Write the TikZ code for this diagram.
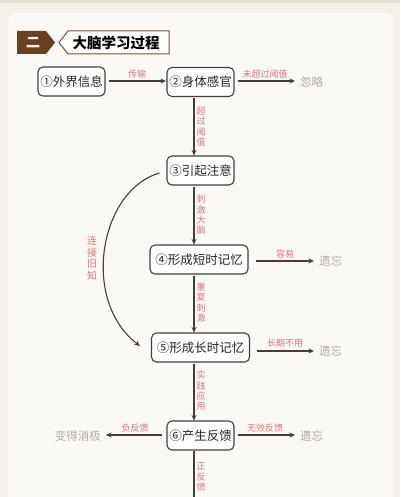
\documentclass[tikz,border=0pt]{standalone}
\usepackage{fontspec}
\setmainfont{Noto Sans CJK SC}
\usetikzlibrary{arrows.meta}
\definecolor{outerbg}{HTML}{F5F0EA}
\definecolor{topstrip}{HTML}{E9DDD0}
\definecolor{panelbg}{HTML}{FBF9F6}
\definecolor{nodeborder}{HTML}{4A3B35}
\definecolor{lblred}{HTML}{E0737B}
\definecolor{grayout}{HTML}{B3A89F}
\definecolor{hdrbrown}{HTML}{6B3F1F}
\definecolor{hdrborder}{HTML}{7A4E2E}
\tikzset{
  stepbox/.style={draw=nodeborder, line width=1.1pt, rounded corners=5pt, fill=white,
    minimum height=29pt, inner sep=0pt, font=\fontsize{12.5}{14}\selectfont, text=black!85},
  conn/.style={draw=nodeborder, line width=1.1pt, -{Stealth[length=5.5pt,width=5pt]}},
  lbl/.style={text=lblred, font=\fontsize{9}{10}\selectfont, inner sep=0pt},
  vlbl/.style={text=lblred, font=\fontsize{9}{10.3}\selectfont, inner sep=0pt, align=center},
  outtxt/.style={text=grayout, font=\fontsize{11.5}{13}\selectfont, inner sep=0pt},
}
\begin{document}
\begin{tikzpicture}[x=1pt,y=-1pt]
\useasboundingbox (0,0) rectangle (400,497);
\fill[outerbg] (0,0) rectangle (400,497);
\fill[topstrip] (0,0) rectangle (400,3);
\fill[panelbg, rounded corners=7pt] (8,13) rectangle (393,520);
% header
\fill[hdrbrown] (17,31) -- (46,31) -- (55,42.5) -- (46,54) -- (17,54) -- cycle;
\node[text=white, font=\bfseries\fontsize{14}{14}\selectfont, inner sep=0pt] (hnum) at (33,42.5) {二};
\draw[hdrborder, line width=1pt, fill=white] (68,31) -- (169,31) -- (169,54) -- (68,54) -- (59,42.5) -- cycle;
\node[font=\bfseries\fontsize{14.5}{15}\selectfont, inner sep=0pt, text=black] (htitle) at (116,42.5) {大脑学习过程};
% nodes
\node[stepbox, minimum width=67pt] (n1) at (71.5,81.5) {①外界信息};
\node[stepbox, minimum width=67pt] (n2) at (200.5,82) {②身体感官};
\node[stepbox, minimum width=67pt] (n3) at (200.5,170.5) {③引起注意};
\node[stepbox, minimum width=98pt] (n4) at (199,259.5) {④形成短时记忆};
\node[stepbox, minimum width=98pt] (n5) at (200.5,347.5) {⑤形成长时记忆};
\node[stepbox, minimum width=67pt] (n6) at (200.5,435.5) {⑥产生反馈};
% outcome texts
\node[outtxt, anchor=west] (o2) at (300,82) {忽略};
\node[outtxt, anchor=west] (o4) at (319,261.5) {遗忘};
\node[outtxt, anchor=west] (o5) at (319,351) {遗忘};
\node[outtxt, anchor=west] (o6r) at (300,436) {遗忘};
\node[outtxt, anchor=east] (o6l) at (101,436) {变得消极};
\coordinate (vx) at (194,0);
\coordinate (bottomend) at (194,500);
% horizontal connectors
\draw[conn, shorten <=3.5pt, shorten >=0.5pt] (n1.east |- 0,81) -- (n2.west |- 0,81);
\node[lbl] (l12) at (137,74) {传输};
\draw[conn, shorten <=3pt, shorten >=5pt] (n2.east |- 0,81) -- (o2.west |- 0,81);
\node[lbl] (l2o) at (265,74) {未超过阈值};
\draw[conn, shorten <=7pt, shorten >=5pt] (n4.east |- 0,261) -- (o4.west |- 0,261);
\node[lbl] (l4o) at (285,254) {容易};
\draw[conn, shorten <=7pt, shorten >=5pt] (n5.east |- 0,351) -- (o5.west |- 0,351);
\node[lbl] (l5o) at (285,343.5) {长期不用};
\draw[conn, shorten <=3pt, shorten >=5pt] (n6.east |- 0,435) -- (o6r.west |- 0,435);
\node[lbl] (l6r) at (265,428) {无效反馈};
\draw[conn, shorten <=4pt, shorten >=5pt] (n6.west |- 0,435) -- (o6l.east |- 0,435);
\node[lbl] (l6l) at (135,428) {负反馈};
% vertical connectors
\draw[conn, shorten <=1pt] (n2.south -| vx) -- (n3.north -| vx);
\node[vlbl] (v23) at (201,126.5) {超\\过\\阈\\值};
\draw[conn, shorten <=1pt] (n3.south -| vx) -- (n4.north -| vx);
\node[vlbl] (v34) at (201,215) {刺\\激\\大\\脑};
\draw[conn, shorten <=1pt] (n4.south -| vx) -- (n5.north -| vx);
\node[vlbl] (v45) at (201,302.5) {重\\复\\刺\\激};
\draw[conn, shorten <=1pt] (n5.south -| vx) -- (n6.north -| vx);
\node[vlbl] (v56) at (201,391) {实\\践\\应\\用};
\draw[draw=nodeborder, line width=1.1pt] (n6.south -| vx) -- (bottomend);
\node[vlbl] (v6d) at (201,477) {正\\反\\馈};
% curve
\draw[conn] ([xshift=-7pt,yshift=-2.5pt]n3.west) .. controls (100,190) and (80,300) .. ([xshift=-11pt,yshift=1.5pt]n5.west);
\node[vlbl, font=\fontsize{10}{11.5}\selectfont] (vc) at (92,258) {连\\接\\旧\\知};
\end{tikzpicture}
\end{document}
